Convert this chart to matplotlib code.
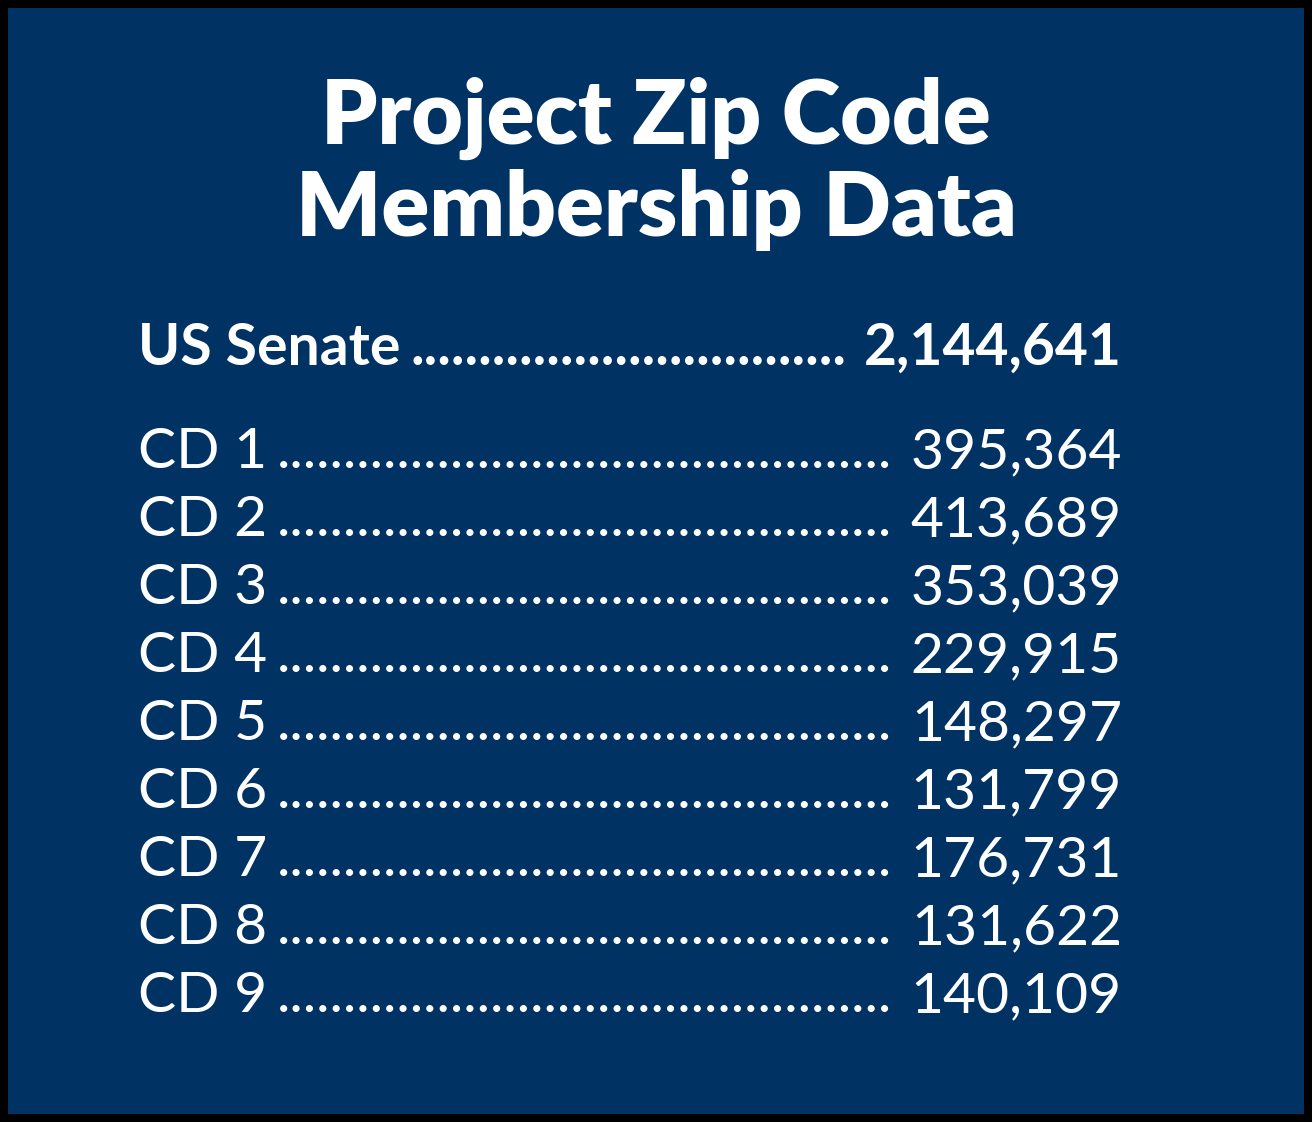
import matplotlib
matplotlib.use("Agg")
import matplotlib.pyplot as plt
from matplotlib.patches import Rectangle

title_lines = ["Project Zip Code", "Membership Data"]
header_label = "US Senate"
header_value = "2,144,641"
districts = ["CD 1", "CD 2", "CD 3", "CD 4", "CD 5", "CD 6", "CD 7", "CD 8", "CD 9"]
members = [395364, 413689, 353039, 229915, 148297, 131799, 176731, 131622, 140109]

W, H = 1312, 1122
BG = "#003263"
fig = plt.figure(figsize=(W/100, H/100), dpi=100)
fig.patch.set_facecolor("black")
ax = fig.add_axes([0, 0, 1, 1])
ax.set_xlim(0, W); ax.set_ylim(H, 0); ax.axis("off")
ax.add_patch(Rectangle((8, 8), W-16, H-16, facecolor=BG, edgecolor="none"))

ax.text(656, 118, title_lines[0], fontfamily="Lato", fontweight="heavy", fontsize=64,
        color="white", ha="center", va="center")
ax.text(656, 210, title_lines[1], fontfamily="Lato", fontweight="heavy", fontsize=64,
        color="white", ha="center", va="center")

fig.canvas.draw()
r = fig.canvas.get_renderer()
inv = ax.transData.inverted()

def row(y, label, value, weight):
    kw = dict(fontfamily="Lato", fontweight=weight, fontsize=41, color="white", va="baseline")
    t1 = ax.text(138, y, label, ha="left", **kw)
    t2 = ax.text(1122, y, value, ha="right", **kw)
    b1 = t1.get_window_extent(r); b2 = t2.get_window_extent(r)
    x0 = inv.transform((b1.x1, 0))[0] + 10
    x1 = inv.transform((b2.x0, 0))[0] - 10
    n = 1
    while True:
        td = ax.text(x0, y, "." * (n + 1), ha="left", **kw)
        bx = inv.transform((td.get_window_extent(r).x1, 0))[0]
        td.remove()
        if bx > x1:
            break
        n += 1
    ax.text(x0, y, "." * n, ha="left", **kw)

row(365, header_label, header_value, "bold")
for i, (d, m) in enumerate(zip(districts, members)):
    row(468 + i * 68, d, f"{m:,}", "normal")

fig.savefig("out.png", dpi=100, facecolor="black")
